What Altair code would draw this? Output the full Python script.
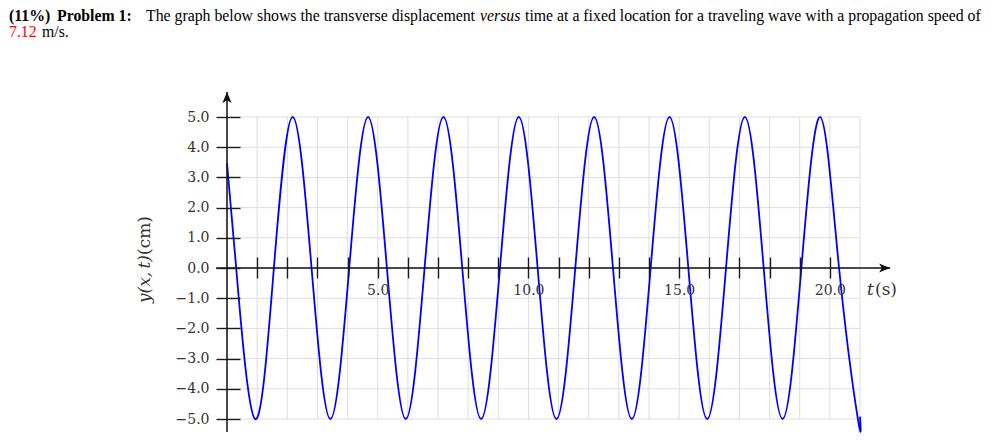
import altair as alt
import pandas as pd

# ---- data ----
# wave samples (extrema and zero crossings), t in s, y in cm
wave_t = [0.0, 0.305, 0.93, 1.555, 2.18, 2.805, 3.43, 4.055, 4.68, 5.305, 5.93,
          6.555, 7.18, 7.805, 8.43, 9.055, 9.68, 10.305, 10.93, 11.555, 12.18,
          12.805, 13.43, 14.055, 14.68, 15.305, 15.93, 16.555, 17.18, 17.805,
          18.43, 19.055, 19.68, 20.305, 20.93, 21.0]
wave_y = [3.47, 0, -5, 0, 5, 0, -5, 0, 5, 0, -5,
          0, 5, 0, -5, 0, 5, 0, -5, 0, 5,
          0, -5, 0, 5, 0, -5, 0, 5, 0,
          -5, 0, 5, 0, -5, -4.92]

x_domain = [0, 21]
y_domain = [-5, 5]
grid_t = list(range(0, 22))
grid_y = list(range(-5, 6))
x_tick_values = list(range(1, 21))
x_label_values = [5, 10, 15, 20]
y_tick_values = list(range(-5, 6))
x_axis_extent = [-0.36, 22.0]
y_axis_extent = [-5.43, 5.83]

title_bold = ["(11%)", "Problem 1:"]
title_line1 = ["The graph below shows the transverse displacement", "versus",
               "time at a fixed location for a traveling wave with a propagation speed of"]
speed_value = "7.12"
speed_unit = "m/s."
y_title = ["y(x,\u2009t)", "(cm)"]
x_title = ["t", "(s)"]

# ---- layout ----
W, H = 633, 302
xs = alt.Scale(domain=x_domain, nice=False, zero=False)
ys = alt.Scale(domain=y_domain, nice=False, zero=False)
SERIF = "DejaVu Serif"
TEXT_SERIF = "Liberation Serif"

wave_df = pd.DataFrame({"t": wave_t, "y": wave_y})

label_expr = ("indexof([" + ",".join(str(v) for v in x_label_values) +
              "], datum.value) >= 0 ? format(datum.value, '.1f') : ''")

x_enc_axis = alt.X("t:Q", scale=xs, axis=alt.Axis(
    values=x_tick_values, tickCount=len(x_tick_values), labelExpr=label_expr,
    orient="bottom", offset=-162, tickSize=21, tickWidth=1.4, tickColor="#1a1a1a",
    domain=False, grid=False, labelPadding=5, labelFont=SERIF,
    labelFontSize=14, labelColor="#333333", labelFlush=False,
    labelOverlap=False, title="", zindex=1))
y_enc_axis = alt.Y("y:Q", scale=ys, axis=alt.Axis(
    values=y_tick_values, tickCount=len(y_tick_values), format=".1f", orient="left",
    offset=-13, tickSize=24, tickWidth=1.4, tickColor="#1a1a1a",
    domain=False, grid=False, labelPadding=7, labelFont=SERIF,
    labelFontSize=14, labelColor="#333333", labelOverlap=False, title="", zindex=1))

# invisible carrier of the axes (first layer so its axis settings win)
axis_carrier = alt.Chart(wave_df).mark_line(strokeOpacity=0).encode(
    x=x_enc_axis, y=y_enc_axis)

grid_v = alt.Chart(pd.DataFrame({"t": grid_t})).mark_rule(
    color="#dddddd", strokeWidth=1).encode(
    x=alt.X("t:Q", scale=xs), y=alt.value(0), y2=alt.value(H))
grid_h = alt.Chart(pd.DataFrame({"y": grid_y})).mark_rule(
    color="#dddddd", strokeWidth=1).encode(
    y=alt.Y("y:Q", scale=ys), x=alt.value(0), x2=alt.value(W))

wave = alt.Chart(wave_df).mark_line(
    color="#0000ff", strokeWidth=1.8, interpolate="natural").encode(
    x=alt.X("t:Q", scale=xs), y=alt.Y("y:Q", scale=ys))

x_line = alt.Chart(pd.DataFrame({"t": [x_axis_extent[0]], "t2": [x_axis_extent[1]], "y": [0]})).mark_rule(
    color="#111111", strokeWidth=1.5).encode(
    x=alt.X("t:Q", scale=xs), x2="t2:Q", y=alt.Y("y:Q", scale=ys))
y_line = alt.Chart(pd.DataFrame({"t": [0], "y": [y_axis_extent[0]], "y2": [y_axis_extent[1]]})).mark_rule(
    color="#111111", strokeWidth=1.5).encode(
    x=alt.X("t:Q", scale=xs), y=alt.Y("y:Q", scale=ys), y2="y2:Q")

arrow_up = alt.Chart(pd.DataFrame({"t": [0], "y": [y_axis_extent[1]]})).mark_point(
    shape="M0,0L0.75,1.8L0,1.35L-0.75,1.8Z", filled=True, size=150,
    color="#111111", opacity=1).encode(
    x=alt.X("t:Q", scale=xs), y=alt.Y("y:Q", scale=ys))
arrow_right = alt.Chart(pd.DataFrame({"t": [x_axis_extent[1]], "y": [0]})).mark_point(
    shape="M0,0L-1.8,-0.75L-1.35,0L-1.8,0.75Z", filled=True, size=150,
    color="#111111", opacity=1).encode(
    x=alt.X("t:Q", scale=xs), y=alt.Y("y:Q", scale=ys))


def txt(s, x, y, **style):
    return alt.Chart(pd.DataFrame({"s": [s]})).mark_text(**style).encode(
        x=alt.value(x), y=alt.value(y), text="s:N")


FS = 15.8
base_txt = dict(align="left", baseline="alphabetic", font=TEXT_SERIF, fontSize=FS, color="#000000")
L1, L2 = -96.5, -80
texts = [
    txt(title_bold[0], -218, L1, fontWeight="bold", **base_txt),
    txt(title_bold[1], -170, L1, fontWeight="bold", **base_txt),
    txt(title_line1[0], -81, L1, **base_txt),
    txt(title_line1[1], 253, L1, fontStyle="italic", **base_txt),
    txt(title_line1[2], 298, L1, **base_txt),
    txt(speed_value, -218, L2, align="left", baseline="alphabetic", font=TEXT_SERIF,
        fontSize=FS, color="#ff0000"),
    txt(speed_unit, -185, L2, **base_txt),
    # y title (rotated)
    txt(y_title[0], -82, 138, align="right", baseline="middle", angle=270,
        font=SERIF, fontSize=17, fontStyle="italic", color="#333333"),
    txt(y_title[1], -82, 138, align="left", baseline="middle", angle=270,
        font=SERIF, fontSize=17, color="#333333"),
    # x title
    txt(x_title[0], 640, 173, align="left", baseline="middle",
        font=SERIF, fontSize=17, fontStyle="italic", color="#333333"),
    txt(x_title[1], 648, 173, align="left", baseline="middle",
        font=SERIF, fontSize=17, color="#333333"),
]

chart = alt.layer(axis_carrier, grid_v, grid_h, wave, x_line, y_line, arrow_up, arrow_right,
                  *texts).properties(
    width=W, height=H,
    autosize=alt.AutoSizeParams(type="none"),
    padding={"left": 219, "top": 109, "right": 125, "bottom": 16},
    background="white",
).configure_view(strokeWidth=0)

chart.save("out.html", embed_options={"renderer": "svg", "actions": False})
